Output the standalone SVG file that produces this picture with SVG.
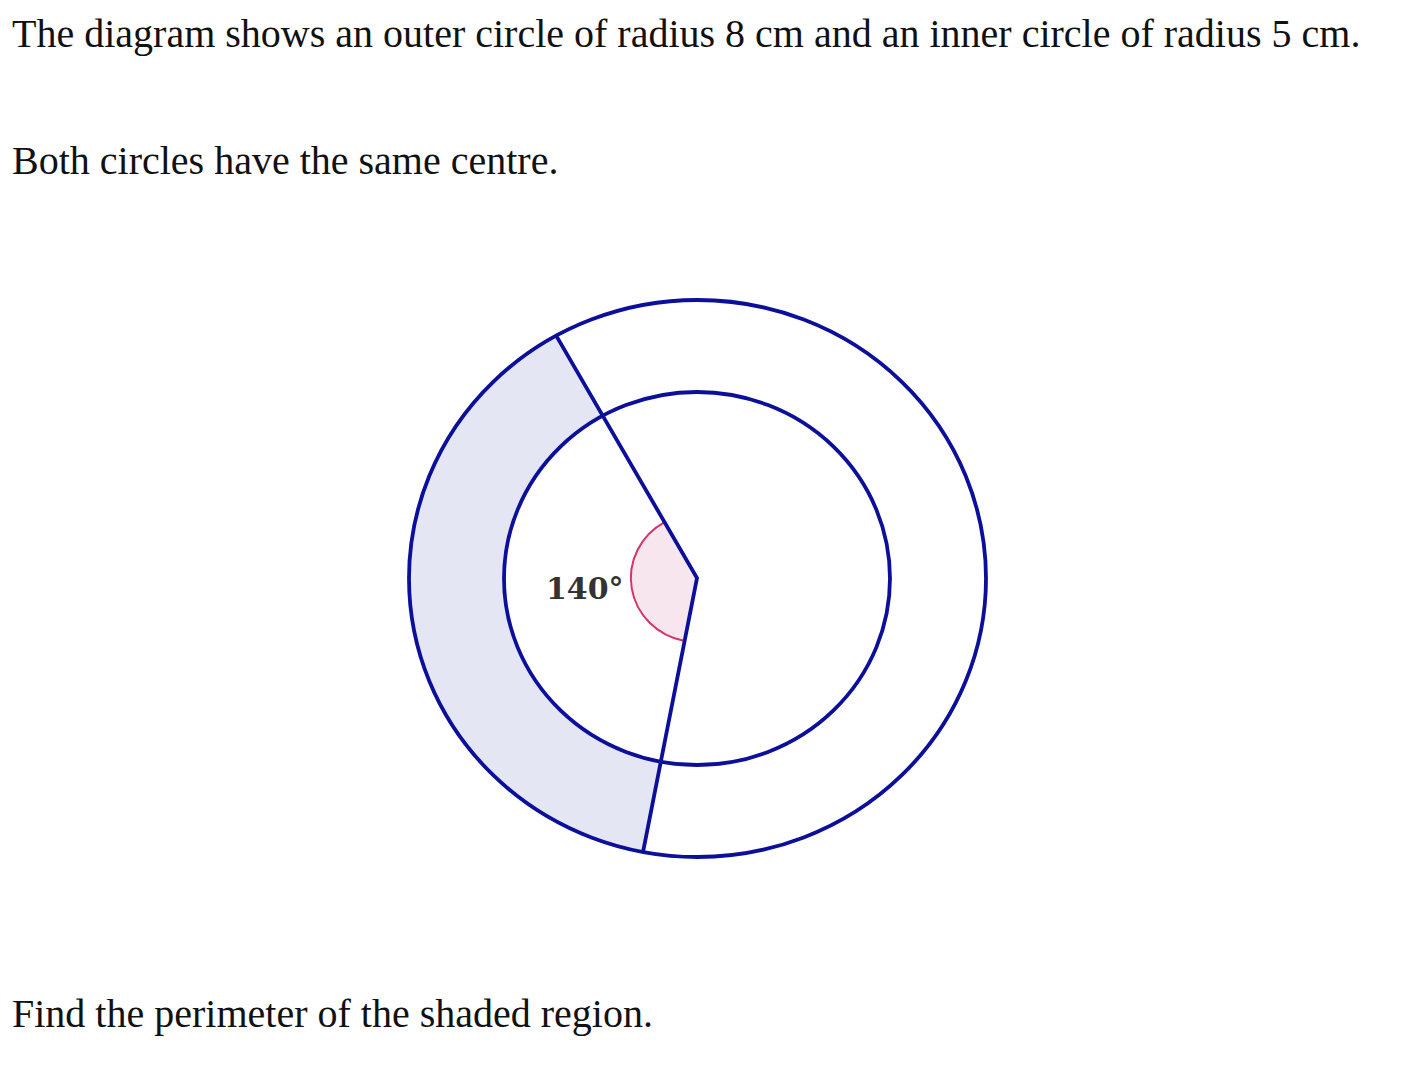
<svg xmlns="http://www.w3.org/2000/svg" width="1402" height="1082" viewBox="0 0 1402 1082">
<style>
.t{font-family:"Liberation Serif","Times New Roman",serif;font-size:40px;fill:#111}
.b{fill:none;stroke:#0b0f99;stroke-width:3.8}
.ang{font-family:"DejaVu Serif","Liberation Serif",serif;font-weight:bold;font-size:30px;fill:#333}
</style>
<rect width="1402" height="1082" fill="#fff"/>
<text class="t" x="12" y="47">The diagram shows an outer circle of radius 8 cm and an inner circle of radius 5 cm.</text>
<text class="t" x="12" y="174">Both circles have the same centre.</text>
<g id="shaded">
<path d="M555.9,335.1 A288.5,278.5 0 0 0 643.1,851.6 L660.9,761.2 A193,186.5 0 0 1 602.5,415.3 Z" fill="#e4e6f4" stroke="none"/>
</g>
<g id="angle">
<path d="M697,578 L664.6,522.2 A66,64 0 0 0 684.6,640.9 Z" fill="#f8e6ef" stroke="none"/>
<path d="M664.6,522.2 A66,64 0 0 0 684.6,640.9" fill="none" stroke="#d6336c" stroke-width="2"/>
</g>
<g id="outer-circle"><ellipse class="b" cx="697.5" cy="578.5" rx="288.5" ry="278.5"/></g>
<g id="inner-circle"><ellipse class="b" cx="697" cy="578.5" rx="193" ry="186.5"/></g>
<g id="connectors">
<polyline class="b" points="555.9,335.1 697,578 643.1,851.6" stroke-linejoin="miter"/>
</g>
<g id="label"><text class="ang" x="546" y="599">140°</text></g>
<text class="t" x="12" y="1027">Find the perimeter of the shaded region.</text>
</svg>
